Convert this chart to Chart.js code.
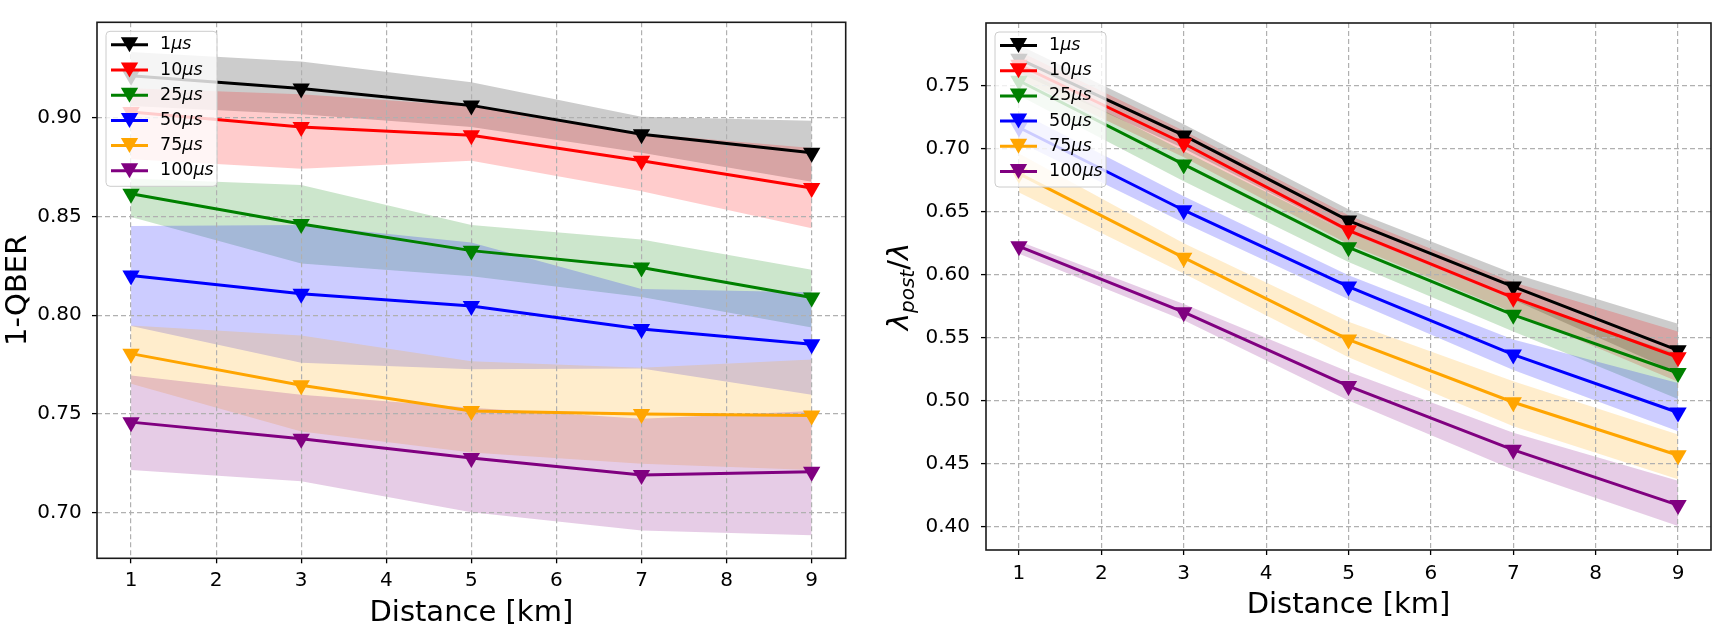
<!DOCTYPE html>
<html>
<head>
<meta charset="utf-8">
<title>QBER and lambda vs distance</title>
<script src="https://cdn.jsdelivr.net/npm/chart.js@4.4.1/dist/chart.umd.min.js"></script>
<style>
  html, body { margin: 0; padding: 0; background: #fff; }
  #wrap { position: relative; width: 1721px; height: 628px; }
  .panel { position: absolute; top: 0; height: 628px; }
  #left { left: 0; width: 860px; }
  #right { left: 860px; width: 861px; }
</style>
</head>
<body>
<div id="wrap">
  <div class="panel" id="left"><canvas id="qber-chart" width="860" height="628"></canvas></div>
  <div class="panel" id="right"><canvas id="lambda-chart" width="861" height="628"></canvas></div>
</div>
<script>
// distances where the measurements were taken (km)
const distances = [1, 3, 5, 7, 9];
const xTicks = [1, 2, 3, 4, 5, 6, 7, 8, 9];

// series: 1, 10, 25, 50, 75, 100 µs
const seriesNames = ['1', '10', '25', '50', '75', '100'];
const seriesColors = ['#000000', '#ff0000', '#008000', '#0000ff', '#ffa500', '#800080'];
const seriesFills = ['rgba(0,0,0,0.2)', 'rgba(255,0,0,0.2)', 'rgba(0,128,0,0.2)',
                     'rgba(0,0,255,0.2)', 'rgba(255,165,0,0.2)', 'rgba(128,0,128,0.2)'];

// left panel: 1-QBER (mean, upper and lower edge of the band)
const qberTicks = [0.70, 0.75, 0.80, 0.85, 0.90];
const qberMean = [
  [0.9213, 0.9148, 0.9063, 0.8917, 0.8823],
  [0.9029, 0.8953, 0.8912, 0.8782, 0.8644],
  [0.8615, 0.8462, 0.8327, 0.8241, 0.8089],
  [0.8201, 0.8108, 0.8046, 0.7930, 0.7853],
  [0.7805, 0.7645, 0.7515, 0.7499, 0.7491],
  [0.7458, 0.7374, 0.7276, 0.7190, 0.7207]
];
const qberUpper = [
  [0.9334, 0.9286, 0.9180, 0.9006, 0.8985],
  [0.9150, 0.9120, 0.9060, 0.8920, 0.8847],
  [0.8693, 0.8660, 0.8457, 0.8384, 0.8230],
  [0.8452, 0.8457, 0.8368, 0.8133, 0.8116],
  [0.7948, 0.7897, 0.7767, 0.7734, 0.7775],
  [0.7694, 0.7597, 0.7531, 0.7475, 0.7515]
];
const qberLower = [
  [0.9060, 0.9018, 0.8953, 0.8823, 0.8676],
  [0.8790, 0.8742, 0.8782, 0.8628, 0.8441],
  [0.8497, 0.8262, 0.8197, 0.8092, 0.7938],
  [0.7945, 0.7759, 0.7726, 0.7730, 0.7597],
  [0.7653, 0.7410, 0.7304, 0.7247, 0.7215],
  [0.7215, 0.7158, 0.7001, 0.6909, 0.6885]
];

// right panel: lambda_post / lambda
const lambdaTicks = [0.40, 0.45, 0.50, 0.55, 0.60, 0.65, 0.70, 0.75];
const lambdaMean = [
  [0.7710, 0.7103, 0.6428, 0.5905, 0.5400],
  [0.7663, 0.7039, 0.6351, 0.5817, 0.5345],
  [0.7536, 0.6873, 0.6216, 0.5681, 0.5220],
  [0.7166, 0.6510, 0.5905, 0.5366, 0.4907],
  [0.6800, 0.6134, 0.5485, 0.4988, 0.4568],
  [0.6224, 0.5702, 0.5116, 0.4611, 0.4173]
];
const lambdaUpper = [
  [0.7820, 0.7192, 0.6517, 0.6008, 0.5610],
  [0.7770, 0.7140, 0.6470, 0.5940, 0.5549],
  [0.7640, 0.6980, 0.6330, 0.5800, 0.5370],
  [0.7290, 0.6620, 0.5995, 0.5485, 0.5140],
  [0.6960, 0.6249, 0.5626, 0.5154, 0.4733],
  [0.6265, 0.5766, 0.5230, 0.4747, 0.4365]
];
const lambdaLower = [
  [0.7600, 0.7000, 0.6330, 0.5800, 0.5220],
  [0.7550, 0.6930, 0.6240, 0.5700, 0.5150],
  [0.7420, 0.6740, 0.6100, 0.5549, 0.5014],
  [0.7050, 0.6410, 0.5804, 0.5243, 0.4759],
  [0.6650, 0.6008, 0.5345, 0.4797, 0.4377],
  [0.6165, 0.5638, 0.5001, 0.4453, 0.4008]
];

const FONT = "'DejaVu Sans', 'Liberation Sans', sans-serif";
const LINE_W = 3;
const MARKER_R = 10;

function toPoints(row) {
  return distances.map((d, i) => ({ x: d, y: row[i] }));
}

// band (upper filled to lower) + line for every series
function buildDatasets(mean, upper, lower) {
  const out = [];
  seriesNames.forEach((name, k) => {
    out.push({
      data: toPoints(upper[k]), fill: '+1', backgroundColor: seriesFills[k],
      borderColor: 'transparent', borderWidth: 0, pointRadius: 0, order: 20 - k
    });
    out.push({
      data: toPoints(lower[k]), fill: false, backgroundColor: 'transparent',
      borderColor: 'transparent', borderWidth: 0, pointRadius: 0, order: 20 - k
    });
    out.push({
      label: name, isSeries: true, data: toPoints(mean[k]), fill: false,
      borderColor: seriesColors[k], backgroundColor: seriesColors[k],
      borderWidth: LINE_W, tension: 0,
      pointStyle: 'triangle', rotation: 180, pointRadius: MARKER_R, pointHoverRadius: MARKER_R,
      pointBorderWidth: 0, pointBackgroundColor: seriesColors[k], order: 10 - k
    });
  });
  return out;
}

// triangle marker for the legend
function legendMarker(ctx, x, y, r) {
  if (Chart.helpers && Chart.helpers.drawPoint) {
    Chart.helpers.drawPoint(ctx, { pointStyle: 'triangle', rotation: 180, radius: r, borderWidth: 0 }, x, y);
    return;
  }
  ctx.beginPath();
  ctx.moveTo(x, y + r);
  ctx.lineTo(x - 0.866 * r, y - 0.5 * r);
  ctx.lineTo(x + 0.866 * r, y - 0.5 * r);
  ctx.closePath();
  ctx.fill();
}

// frame, legend and the mathtext-like y title
const decorPlugin = {
  id: 'decor',
  afterDraw(chart, args, opts) {
    const ctx = chart.ctx;
    const a = chart.chartArea;

    ctx.save();
    ctx.strokeStyle = '#1a1a1a';
    ctx.lineWidth = 1.6;
    ctx.strokeRect(a.left, a.top, a.right - a.left, a.bottom - a.top);
    ctx.restore();

    // legend box in the upper left corner
    const bx = a.left + 9, by = a.top + 9, bw = 111, bh = 155;
    ctx.save();
    ctx.beginPath();
    if (ctx.roundRect) ctx.roundRect(bx, by, bw, bh, 4); else ctx.rect(bx, by, bw, bh);
    ctx.fillStyle = 'rgba(255,255,255,0.8)';
    ctx.fill();
    ctx.strokeStyle = '#cccccc';
    ctx.lineWidth = 1;
    ctx.stroke();

    let row = 0;
    chart.data.datasets.forEach(ds => {
      if (!ds.isSeries) return;
      const y = by + 13.5 + row * 25.2;
      ctx.strokeStyle = ds.borderColor;
      ctx.lineWidth = LINE_W;
      ctx.beginPath();
      ctx.moveTo(bx + 5, y);
      ctx.lineTo(bx + 42, y);
      ctx.stroke();
      ctx.fillStyle = ds.borderColor;
      legendMarker(ctx, bx + 23.5, y - 2.5, MARKER_R);

      ctx.fillStyle = '#000';
      ctx.textBaseline = 'middle';
      ctx.textAlign = 'left';
      ctx.font = '17.5px ' + FONT;
      ctx.fillText(ds.label, bx + 54, y);
      const w = ctx.measureText(ds.label).width;
      ctx.font = 'italic 17.5px ' + FONT;
      ctx.fillText('μs', bx + 54 + w, y);
      row++;
    });
    ctx.restore();

    if (opts && opts.lambdaTitle) {
      const cy = (a.top + a.bottom) / 2;
      const parts = [
        { t: 'λ', f: 'italic 29px ' + FONT, dy: 0 },
        { t: 'post', f: 'italic 20px ' + FONT, dy: 6 },
        { t: '/', f: '29px ' + FONT, dy: 0 },
        { t: 'λ', f: 'italic 29px ' + FONT, dy: 0 }
      ];
      ctx.save();
      let total = 0;
      parts.forEach(p => { ctx.font = p.f; p.w = ctx.measureText(p.t).width; total += p.w; });
      ctx.translate(opts.lambdaTitle.x, cy);
      ctx.rotate(-Math.PI / 2);
      ctx.fillStyle = '#000';
      ctx.textBaseline = 'alphabetic';
      ctx.textAlign = 'left';
      let px = -total / 2;
      parts.forEach(p => { ctx.font = p.f; ctx.fillText(p.t, px, p.dy); px += p.w; });
      ctx.restore();
    }
  }
};

function makeOptions(cfg) {
  return {
    responsive: false,
    animation: false,
    devicePixelRatio: 1,
    layout: { padding: { left: 0, top: cfg.padTop, right: cfg.padRight, bottom: 0 } },
    plugins: {
      legend: { display: false },
      tooltip: { enabled: false },
      // bands go under the grid, like fill_between in matplotlib
      filler: { drawTime: 'beforeDraw' },
      decor: cfg.decor || {}
    },
    scales: {
      x: {
        type: 'linear', min: 0.6, max: 9.4,
        afterBuildTicks: s => { s.ticks = xTicks.map(v => ({ value: v })); },
        afterFit: s => { s.height = cfg.xHeight; },
        grid: { color: '#b0b0b0', lineWidth: 1.2, tickColor: '#000', tickLength: 5, tickWidth: 1.3 },
        border: { display: false, dash: [5, 3] },
        ticks: {
          color: '#000', font: { family: FONT, size: 20 }, padding: cfg.xTickPad,
          maxRotation: 0, autoSkip: false, callback: v => String(v)
        },
        title: {
          display: true, text: 'Distance [km]', color: '#000',
          font: { family: FONT, size: 29, lineHeight: 1 },
          padding: { top: 0, bottom: cfg.xTitlePad }
        }
      },
      y: {
        type: 'linear', min: cfg.yMin, max: cfg.yMax,
        afterBuildTicks: s => { s.ticks = cfg.yTicks.map(v => ({ value: v })); },
        afterFit: s => { s.width = cfg.yWidth; },
        grid: { color: '#b0b0b0', lineWidth: 1.2, tickColor: '#000', tickLength: 5, tickWidth: 1.3 },
        border: { display: false, dash: [5, 3] },
        ticks: {
          color: '#000', font: { family: FONT, size: 20 }, padding: cfg.yTickPad,
          autoSkip: false, callback: v => v.toFixed(2)
        },
        title: {
          display: !!cfg.yTitle, text: cfg.yTitle || '', color: '#000',
          font: { family: FONT, size: 29, lineHeight: 1 },
          padding: { top: 4, bottom: 0 }
        }
      }
    }
  };
}

new Chart(document.getElementById('qber-chart'), {
  type: 'line',
  data: { datasets: buildDatasets(qberMean, qberUpper, qberLower) },
  options: makeOptions({
    padTop: 1, padRight: 14.3, xHeight: 69.7, yWidth: 97,
    yMin: 0.6768, yMax: 0.9484, yTicks: qberTicks,
    xTickPad: 5.5, yTickPad: 10.3, xTitlePad: 0.5, yTitle: '1-QBER'
  }),
  plugins: [decorPlugin]
});

new Chart(document.getElementById('lambda-chart'), {
  type: 'line',
  data: { datasets: buildDatasets(lambdaMean, lambdaUpper, lambdaLower) },
  options: makeOptions({
    padTop: 3.3, padRight: 1, xHeight: 78, yWidth: 126,
    yMin: 0.3817, yMax: 0.7994, yTicks: lambdaTicks,
    xTickPad: 6.3, yTickPad: 11, xTitlePad: 8.5, yTitle: '',
    decor: { lambdaTitle: { x: 48 } }
  }),
  plugins: [decorPlugin]
});
</script>
</body>
</html>
